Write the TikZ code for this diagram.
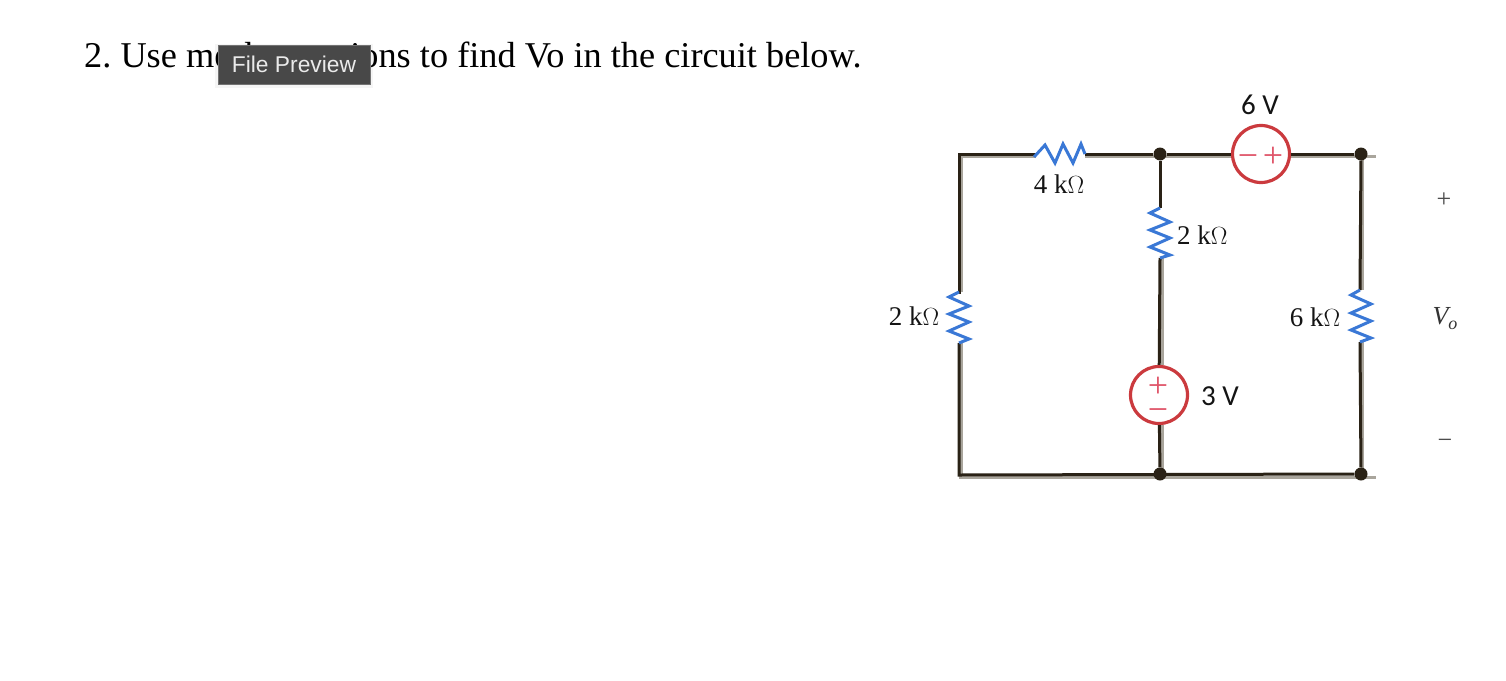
\documentclass[tikz,border=0pt]{standalone}
\usepackage{fontspec}
\setmainfont{Liberation Serif}
\newfontfamily\uisans{Liberation Sans}
\newfontfamily\labsans{Carlito}
\frenchspacing
\definecolor{wirecol}{HTML}{2A2216}
\definecolor{wireshadow}{HTML}{A9A59C}
\definecolor{rescol}{HTML}{3A78D6}
\definecolor{srccol}{HTML}{CB3A3E}
\definecolor{polcol}{HTML}{E0566A}
\definecolor{tipfill}{HTML}{484848}
\definecolor{tiptext}{HTML}{EAEAEA}
\newcommand{\fsz}[1]{\fontsize{#1}{#1}\selectfont}
\tikzset{
  x=1pt,y=-1pt,
  wireshade/.style={draw=wireshadow,line width=3pt},
  wire/.style={draw=wirecol,line width=3pt},
  res/.style={draw=rescol,line width=3pt,line join=miter},
  src/.style={circle,draw=srccol,fill=white,line width=3.2pt,minimum size=57pt,inner sep=0pt},
  dotnode/.style={circle,fill=wirecol,minimum size=13pt,inner sep=0pt},
  lab/.style={text=black!92,font=\fsz{27},inner sep=0pt},
  labs/.style={text=black!92,font=\labsans\fsz{29},inner sep=0pt},
  pol/.style={text=polcol,font=\fsz{36},inner sep=0pt},
}
\begin{document}
\begin{tikzpicture}
\useasboundingbox (0,0) rectangle (1506,680);
\fill[white] (0,0) rectangle (1506,680);
% named points
\coordinate (tl) at (959,154);
\coordinate (bl) at (959,475);
\coordinate (tr) at (1360,154);
\coordinate (tstub) at (1376,154);
\coordinate (bstub) at (1376,475);
\coordinate (r4a) at (1034,154);
\coordinate (r4b) at (1085,154);
\coordinate (r2La) at (959,292);
\coordinate (r2Lb) at (959,343);
\coordinate (r2Ma) at (1160,208);
\coordinate (r2Mb) at (1160,258);
\coordinate (r6a) at (1360,290);
\coordinate (r6b) at (1360,342);
% wire shadows
\draw[wireshade] ([shift={(2,2)}]tl) -- ([shift={(2,2)}]r4a);
\draw[wireshade] ([shift={(0,2)}]r4b) -- (1232,156);
\draw[wireshade] (1290,156) -- ([shift={(0,2)}]tstub);
\draw[wireshade] ([shift={(2,2)}]tl) -- ([shift={(2,0)}]r2La);
\draw[wireshade] ([shift={(2,0)}]r2Lb) -- ([shift={(2,0)}]bl);
\draw[wireshade] ([shift={(2,0)}]r2Mb) -- (1162,365);
\draw[wireshade] (1162,425) -- (1162,475);
\draw[wireshade] ([shift={(2,0)}]tr) -- ([shift={(2,0)}]r6a);
\draw[wireshade] ([shift={(2,0)}]r6b) -- (1362,475);
\draw[wireshade] ([shift={(0,2)}]bl) -- ([shift={(0,2)}]bstub);
% sources and junctions
\node[src] (v6) at (1261,154) {};
\node[src] (v3) at (1159,395) {};
\node[dotnode] (j1) at (1160,154) {};
\node[dotnode] (j2) at (1361,154) {};
\node[dotnode] (j3) at (1160,474) {};
\node[dotnode] (j4) at (1361,474) {};
% wires
\draw[wire,line cap=rect] (r4a) -- (tl) -- (r2La);
\draw[wire] (r2Lb) -- (bl) -- (j4);
\draw[wire] (r4b) -- (j1) -- (v6) (v6) -- (j2);
\draw[wire] (j1) -- (r2Ma);
\draw[wire] (r2Mb) -- (v3);
\draw[wire] (v3) -- (j3);
\draw[wire] (j2) -- (r6a);
\draw[wire] (r6b) -- (j4);
% resistors
\draw[res] (r4a) ++(0,3) -- ++(11,-12) -- ++(10,18) -- ++(8,-19) -- ++(10,19) -- ++(8,-19) -- (r4b);
\draw[res] (r2Ma) -- ++(-10,5) -- ++(20,9) -- ++(-20,8) -- ++(20,8) -- ++(-20,9) -- ++(20,8) -- (r2Mb);
\draw[res] (r2La) -- ++(-10,5) -- ++(20,9) -- ++(-20,8) -- ++(20,8) -- ++(-20,9) -- ++(20,8) -- (r2Lb);
\draw[res] (r6a) -- ++(-9,5) -- ++(20,9) -- ++(-20,9) -- ++(20,8) -- ++(-20,9) -- ++(20,8) -- (r6b);
% polarity marks
\node[pol] (p6m) at (1248,161) {−};
\node[pol] (p6p) at (1273,157) {+};
\node[pol] (p3p) at (1158,387) {+};
\node[pol] (p3m) at (1158,415) {−};
% labels
\node[lab] (l4) at (1059,184) {4 k$\Omega$};
\node[lab,anchor=west] (l2m) at (1177,235) {2 k$\Omega$};
\node[lab] (l2L) at (914,316) {2 k$\Omega$};
\node[lab] (l6) at (1315,317) {6 k$\Omega$};
\node[labs] (l6v) at (1260,105) {6 V};
\node[labs] (l3v) at (1220,396) {3 V};
\node[text=black!70,font=\fsz{26},inner sep=0pt] (vop) at (1444,200) {+};
\node[text=black!70,font=\fsz{26},inner sep=0pt] (vom) at (1445,444) {−};
\node[text=black!80,font=\itshape\fsz{26},inner sep=0pt] (vo) at (1445,319) {V\raisebox{-5pt}{\fsz{18}o}};
% title
\node[anchor=base west,inner sep=0pt,font=\fsz{36.3},text=black] (title) at (84,67) {2. Use mesh equations to find Vo in the circuit below.};
% tooltip
\fill[black,opacity=.04] (215,44) rectangle (373,88);
\node[draw=black!55,fill=tipfill,line width=1pt,minimum width=152pt,minimum height=39pt,inner sep=0pt,text=tiptext,font=\uisans\fsz{22.8}] (tip) at (294,64.5) {File Preview};
\end{tikzpicture}
\end{document}
